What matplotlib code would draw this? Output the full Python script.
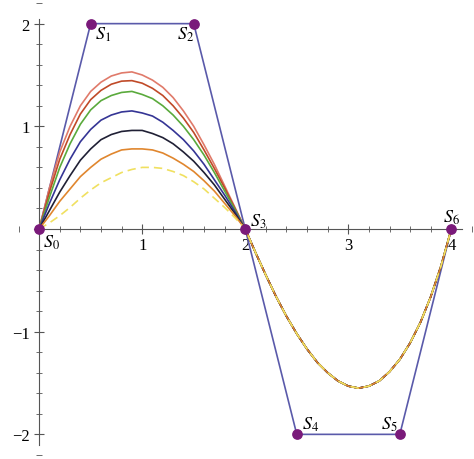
import matplotlib
matplotlib.use("Agg")
import matplotlib.pyplot as plt
from matplotlib.ticker import MultipleLocator

plt.rcParams["font.family"] = "Liberation Serif"
plt.rcParams["mathtext.fontset"] = "stix"

ctrl_x = [0, 0.5, 1.5, 2, 2.5, 3.5, 4]
ctrl_y = [0, 2, 2, 0, -2, -2, 0]
ctrl_labels = ["$S_0$", "$S_1$", "$S_2$", "$S_3$", "$S_4$", "$S_5$", "$S_6$"]

xs = [i / 10 for i in range(41)]
tail = [-0.23, -0.45, -0.66, -0.85, -1.02, -1.17, -1.30, -1.40, -1.48, -1.53,
        -1.55, -1.53, -1.48, -1.39, -1.27, -1.11, -0.91, -0.66, -0.36, 0]
red = [0, 0.40, 0.75, 1.00, 1.20, 1.34, 1.43, 1.49, 1.52, 1.53, 1.50,
       1.45, 1.38, 1.28, 1.15, 1.00, 0.82, 0.63, 0.42, 0.21, 0] + tail
brown = [0, 0.36, 0.68, 0.92, 1.12, 1.26, 1.35, 1.41, 1.44, 1.445, 1.42,
         1.37, 1.30, 1.20, 1.08, 0.94, 0.77, 0.59, 0.40, 0.20, 0] + tail
green = [0, 0.31, 0.60, 0.83, 1.02, 1.16, 1.25, 1.30, 1.33, 1.34, 1.31,
         1.27, 1.20, 1.11, 1.00, 0.87, 0.72, 0.55, 0.37, 0.19, 0] + tail
blue = [0, 0.25, 0.48, 0.68, 0.85, 0.97, 1.06, 1.11, 1.14, 1.15, 1.13,
        1.10, 1.04, 0.96, 0.87, 0.76, 0.63, 0.48, 0.33, 0.17, 0] + tail
navy = [0, 0.18, 0.36, 0.52, 0.67, 0.78, 0.87, 0.92, 0.95, 0.96, 0.96,
        0.93, 0.89, 0.83, 0.75, 0.66, 0.55, 0.43, 0.29, 0.15, 0] + tail
orange = [0, 0.13, 0.27, 0.39, 0.51, 0.60, 0.68, 0.73, 0.77, 0.78, 0.78,
          0.77, 0.74, 0.69, 0.63, 0.56, 0.47, 0.37, 0.25, 0.13, 0] + tail
yellow = [0, 0.06, 0.13, 0.21, 0.30, 0.38, 0.45, 0.50, 0.55, 0.58, 0.60,
          0.60, 0.59, 0.56, 0.52, 0.46, 0.39, 0.30, 0.21, 0.11, 0] + tail

fig = plt.figure(figsize=(4.74, 4.60), dpi=100)
ax = fig.add_axes([0.0, 0.0, 1.0, 1.0])
ax.set_xlim(-0.38, 4.22)
ax.set_ylim(-2.24, 2.24)

ax.plot(ctrl_x, ctrl_y, color="#5a5aaa", lw=1.2, zorder=2)
for ys, c in [(red, "#e07a6a"), (brown, "#c04a28"), (green, "#5aaa3c"),
              (blue, "#353595"), (navy, "#202035"), (orange, "#e0862e")]:
    ax.plot(xs, ys, color=c, lw=1.2, zorder=3)
ax.plot(xs, yellow, color="#f0e060", lw=1.2, ls=(0, (5, 3)), zorder=3)
ax.scatter(ctrl_x, ctrl_y, s=45, color="#7a1a7a", zorder=5)

offsets = [(0.12, -0.12), (0.12, -0.1), (-0.08, -0.1), (0.13, 0.08),
           (0.13, 0.1), (-0.1, 0.1), (0.0, 0.12)]
for x, y, lab, (dx, dy) in zip(ctrl_x, ctrl_y, ctrl_labels, offsets):
    ax.text(x + dx, y + dy, lab, fontsize=13, ha="center", va="center", zorder=6)

for s in ["top", "right"]:
    ax.spines[s].set_visible(False)
ax.spines["left"].set_position(("data", 0))
ax.spines["bottom"].set_position(("data", 0))
ax.spines["left"].set_bounds(-2.1, 2.05)
ax.spines["bottom"].set_bounds(-0.05, 4.1)
for s in ["left", "bottom"]:
    ax.spines[s].set_color("#555555")
ax.set_xticks([1, 2, 3, 4])
ax.set_yticks([-2, -1, 1, 2])
ax.xaxis.set_minor_locator(MultipleLocator(0.2))
ax.yaxis.set_minor_locator(MultipleLocator(0.2))
ax.tick_params(which="major", direction="inout", length=7, color="#555555", labelsize=12)
ax.tick_params(which="minor", direction="inout", length=4, color="#555555")
ax.tick_params(axis="x", pad=2)
ax.set_xticklabels(["1", "2", "3", "4"])
ax.set_yticklabels(["\u22122", "\u22121", "1", "2"])
fig.savefig("out.png")
